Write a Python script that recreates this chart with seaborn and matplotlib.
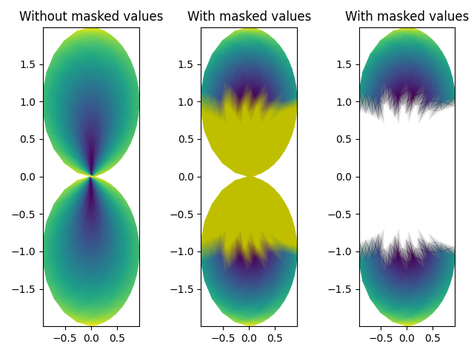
"""Three warped meshes, with and without masked values."""

import io

import numpy as np
import matplotlib
matplotlib.use("Agg")
import matplotlib.pyplot as plt
from matplotlib.colors import Normalize
from PIL import Image
import seaborn as sns

# grid angles, positive half only (the mesh is mirrored about zero)
x_half = [0.1364, 0.4091, 0.6818, 0.9545, 1.2273, 1.5]
y_half = [0.0652, 0.1957, 0.3261, 0.4565, 0.5870, 0.7174,
          0.8478, 0.9783, 1.1087, 1.2391, 1.3696, 1.5]

# colour values for one quadrant, rows follow y_half, columns follow x_half
z_quadrant = [
    [0.0000, 0.1240, 0.2516, 0.3798, 0.5081, 0.6365],
    [0.0412, 0.1425, 0.2631, 0.3881, 0.5146, 0.6418],
    [0.0953, 0.1753, 0.2850, 0.4042, 0.5273, 0.6524],
    [0.1533, 0.2177, 0.3156, 0.4275, 0.5460, 0.6678],
    [0.2128, 0.2660, 0.3529, 0.4570, 0.5700, 0.6881],
    [0.2730, 0.3181, 0.3953, 0.4916, 0.5989, 0.7125],
    [0.3335, 0.3725, 0.4416, 0.5306, 0.6319, 0.7410],
    [0.3943, 0.4286, 0.4908, 0.5731, 0.6686, 0.7729],
    [0.4553, 0.4858, 0.5423, 0.6184, 0.7084, 0.8080],
    [0.5164, 0.5438, 0.5954, 0.6661, 0.7509, 0.8458],
    [0.5776, 0.6025, 0.6499, 0.7157, 0.7956, 0.8862],
    [0.6388, 0.6617, 0.7055, 0.7669, 0.8424, 0.9287],
]

titles = ["Without masked values", "With masked values", "With masked values"]


def build_mesh():
    """Mirror the quadrant and warp the grid into the two lobes."""
    x = np.concatenate([-np.array(x_half)[::-1], x_half])
    y = np.concatenate([-np.array(y_half)[::-1], y_half])
    X, Y = np.meshgrid(x, y)
    Qx = np.cos(Y) - np.cos(X)
    Qz = np.sin(Y) + np.sin(X)

    top = np.array(z_quadrant)
    right = np.vstack([top[::-1], top])
    Z = np.hstack([right[:, ::-1], right])
    return Qx, Qz, Z


def main():
    Qx, Qz, Z = build_mesh()
    Zm = np.ma.masked_where(np.abs(Qz) < 0.5 * np.max(Qz), Z)

    viridis = sns.color_palette("viridis", as_cmap=True)

    # Gouraud drops masked triangles now, so colour the vertices ourselves
    # to keep the masked colour blending into its neighbours
    norm = Normalize(Zm.min(), Zm.max())
    yellow_rgba = viridis.with_extremes(bad="y")(norm(Zm))
    clear_rgba = viridis.with_extremes(bad=(0, 0, 0, 0))(norm(Zm))

    fig, axes = plt.subplots(nrows=1, ncols=3, figsize=(6.4, 4.8), dpi=100)

    axes[0].pcolormesh(Qx, Qz, Z, shading="gouraud", cmap=viridis)
    axes[1].pcolormesh(Qx, Qz, yellow_rgba, shading="gouraud")
    axes[2].pcolormesh(Qx, Qz, clear_rgba, shading="gouraud")

    for ax, title in zip(axes, titles):
        ax.set_title(title)

    fig.subplots_adjust(left=43 / 474, right=455 / 474, bottom=1 - 326 / 355,
                        top=1 - 27 / 355, wspace=62 / 96)

    # Draw at full size and shrink, the thin masked wisps come out softer
    buf = io.BytesIO()
    fig.savefig(buf, format="png", dpi=100)
    buf.seek(0)
    Image.open(buf).convert("RGB").resize((474, 355), Image.LANCZOS).save("out.png")


if __name__ == "__main__":
    main()
